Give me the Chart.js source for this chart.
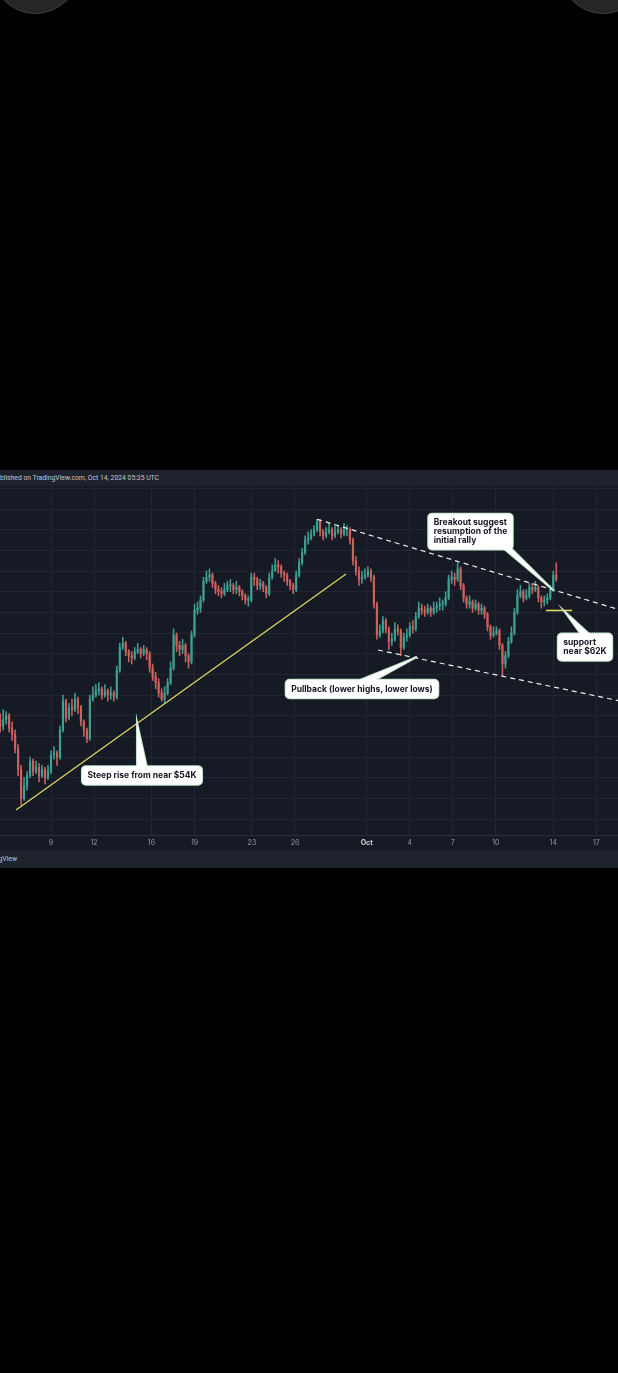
<!DOCTYPE html>
<html>
<head>
<meta charset="utf-8">
<script src="https://cdn.jsdelivr.net/npm/chart.js@4.4.1/dist/chart.umd.min.js"></script>
<style>
  html, body { margin: 0; padding: 0; background: #000; width: 618px; height: 1373px; overflow: hidden; }
  .bubble { position: absolute; width: 89px; height: 89px; border-radius: 50%; background: #262626; border: 1px solid #3b3b3b; box-sizing: border-box; }
  #panel { position: absolute; left: 0; top: 470px; width: 618px; height: 398px; background: #161a25; overflow: hidden; }
  #head { position: absolute; left: 0; top: 0; width: 618px; height: 16px; background: #1e222d; }
  #head span, #foot span { position: absolute; white-space: nowrap; font: 6.8px Roboto, sans-serif; color: #c3c6ce; }
  #head span { right: 459px; top: 4px; }
  #foot { position: absolute; left: 0; top: 380px; width: 618px; height: 18px; background: #1e222d; }
  #foot span { right: 601px; top: 5px; }
  #chart { position: absolute; left: 0; top: 16px; }
</style>
</head>
<body>
<div class="bubble" style="left:-9px; top:-75px;"></div>
<div class="bubble" style="left:559px; top:-75px;"></div>
<div id="panel">
  <div id="head"><span>Published on TradingView.com, Oct 14, 2024 05:35 UTC</span></div>
  <canvas id="chart" width="618" height="364" style="width:618px;height:364px;"></canvas>
  <div id="foot"><span>TradingView</span></div>
</div>
<script>
// BTC 5h candles, prices in $K, time in days since Sep 1
const startDay = 4 + 11 / 24;
const stepDays = 5 / 24;
const firstOpen = 56.8;

const closes = [
  56.5, 56.8, 57.0, 56.4, 56.1, 55.4, 54.4, 53.0, 53.6, 54.1,
  54.8, 54.3, 54.5, 54.1, 54.4, 54.0, 54.3, 55.1, 55.2, 55.0,
  56.3, 57.7, 56.9, 57.4, 57.3, 57.8, 57.4, 56.7, 56.3, 55.9,
  57.8, 58.0, 58.2, 58.3, 58.0, 58.2, 58.0, 58.1, 57.9, 59.2,
  60.3, 60.5, 60.1, 59.9, 59.8, 60.1, 60.2, 60.0, 60.2, 60.0,
  59.3, 58.9, 58.6, 58.1, 57.8, 58.1, 58.6, 59.3, 60.9, 60.4,
  60.2, 60.4, 59.9, 59.6, 60.9, 62.1, 62.2, 62.6, 63.5, 63.7,
  63.8, 63.4, 63.1, 63.0, 62.9, 63.1, 63.3, 63.3, 63.1, 63.2,
  63.0, 62.8, 62.6, 62.6, 63.7, 63.6, 63.3, 63.4, 63.2, 62.9,
  63.7, 64.0, 64.3, 64.2, 63.9, 63.8, 63.5, 63.3, 63.1, 63.8,
  64.4, 64.9, 65.5, 65.6, 65.8, 66.0, 66.4, 65.9, 65.7, 65.9,
  66.0, 65.7, 65.9, 66.0, 65.8, 66.0, 66.0, 65.5, 64.5, 64.0,
  63.6, 63.7, 63.8, 64.0, 63.7, 62.4, 60.9, 61.1, 61.6, 61.2,
  60.6, 60.7, 61.2, 61.1, 60.3, 60.8, 60.9, 61.3, 61.2, 61.8,
  62.2, 62.1, 62.0, 62.2, 62.0, 62.2, 62.3, 62.4, 62.4, 62.7,
  63.6, 63.7, 63.6, 64.1, 63.3, 62.7, 62.4, 62.5, 62.2, 62.4,
  62.1, 62.2, 61.9, 61.3, 60.9, 61.0, 61.1, 60.4, 59.5, 59.9,
  60.6, 61.0, 62.0, 62.8, 63.0, 62.7, 62.8, 63.2, 63.1, 63.2,
  62.7, 62.5, 62.6, 62.7, 63.1, 63.8, 63.6
];
const highs = [
  57.1, 57.3, 57.2, 57.1, 56.7, 56.3, 55.6, 54.6, 54.0, 54.3,
  55.0, 54.9, 54.8, 54.7, 54.6, 54.5, 54.6, 55.3, 55.5, 55.3,
  56.5, 58.0, 57.8, 57.6, 57.8, 58.1, 57.9, 57.5, 56.8, 56.4,
  58.0, 58.4, 58.5, 58.6, 58.4, 58.5, 58.3, 58.4, 58.2, 59.4,
  60.5, 60.8, 60.6, 60.2, 60.1, 60.3, 60.5, 60.3, 60.4, 60.3,
  60.1, 59.5, 59.1, 58.8, 58.3, 58.4, 58.8, 59.6, 61.2, 61.0,
  60.6, 60.7, 60.5, 60.0, 61.1, 62.4, 62.5, 62.8, 63.7, 64.0,
  64.1, 63.9, 63.5, 63.3, 63.2, 63.4, 63.5, 63.6, 63.4, 63.5,
  63.3, 63.1, 62.9, 62.8, 63.9, 63.9, 63.7, 63.6, 63.5, 63.3,
  63.9, 64.3, 64.6, 64.5, 64.3, 64.0, 63.9, 63.6, 63.4, 64.0,
  64.6, 65.1, 65.7, 65.9, 66.0, 66.2, 66.5, 66.5, 66.0, 66.1,
  66.3, 66.1, 66.2, 66.2, 66.1, 66.3, 66.2, 66.1, 65.6, 64.7,
  64.2, 64.0, 64.1, 64.2, 64.1, 63.8, 62.5, 61.4, 61.8, 61.7,
  61.3, 61.0, 61.5, 61.4, 61.2, 61.0, 61.2, 61.5, 61.6, 62.0,
  62.5, 62.4, 62.3, 62.4, 62.3, 62.5, 62.5, 62.7, 62.6, 63.0,
  63.8, 64.0, 63.9, 64.4, 64.2, 63.4, 62.8, 62.8, 62.6, 62.6,
  62.5, 62.4, 62.3, 62.0, 61.4, 61.3, 61.3, 61.2, 60.5, 60.1,
  60.8, 61.3, 62.2, 63.1, 63.3, 63.1, 63.1, 63.4, 63.4, 63.5,
  63.3, 62.8, 62.8, 62.9, 63.3, 64.0, 64.4
];
const lows = [
  56.2, 56.3, 56.6, 56.2, 55.8, 55.2, 54.1, 52.7, 52.9, 53.4,
  54.0, 54.1, 54.2, 53.8, 54.0, 53.7, 53.9, 54.2, 54.9, 54.6,
  54.9, 56.2, 56.7, 56.8, 57.0, 57.2, 57.1, 56.5, 56.0, 55.7,
  55.8, 57.7, 57.9, 58.0, 57.8, 57.9, 57.7, 57.8, 57.7, 57.8,
  59.1, 60.2, 59.9, 59.6, 59.5, 59.7, 60.0, 59.8, 59.9, 59.7,
  59.1, 58.7, 58.3, 57.9, 57.7, 57.6, 58.0, 58.5, 59.2, 60.1,
  59.9, 60.0, 59.6, 59.3, 59.5, 60.8, 61.9, 62.0, 62.5, 63.4,
  63.5, 63.2, 62.9, 62.8, 62.7, 62.8, 63.0, 63.0, 62.9, 62.9,
  62.8, 62.6, 62.4, 62.3, 62.5, 63.3, 63.1, 63.1, 63.0, 62.7,
  62.8, 63.6, 64.0, 63.9, 63.7, 63.5, 63.3, 63.1, 62.9, 63.0,
  63.7, 64.3, 64.8, 65.3, 65.5, 65.7, 65.9, 65.7, 65.5, 65.6,
  65.8, 65.5, 65.6, 65.8, 65.6, 65.7, 65.7, 65.3, 64.3, 63.8,
  63.3, 63.4, 63.6, 63.7, 63.5, 62.2, 60.7, 60.8, 61.0, 61.0,
  60.2, 60.4, 60.6, 60.9, 59.9, 60.2, 60.6, 60.8, 61.0, 61.1,
  61.7, 61.9, 61.8, 61.9, 61.8, 61.9, 62.0, 62.1, 62.1, 62.3,
  62.6, 63.4, 63.3, 63.5, 63.1, 62.5, 62.2, 62.2, 62.0, 62.1,
  61.9, 61.9, 61.7, 61.1, 60.7, 60.8, 60.9, 60.2, 58.9, 59.3,
  59.8, 60.5, 60.9, 61.9, 62.7, 62.5, 62.6, 62.7, 62.9, 63.0,
  62.5, 62.2, 62.3, 62.4, 62.6, 63.0, 63.5
];

const tickDays = [8, 11, 15, 18, 22, 25, 30, 33, 36, 39, 43, 46];
const tickLabels = ['9', '12', '16', '19', '23', '26', 'Oct', '4', '7', '10', '14', '17'];
const priceGrid = [52, 53, 54, 55, 56, 57, 58, 59, 60, 61, 62, 63, 64, 65, 66, 67, 68];
const viewDays = [4.446, 47.51];
const viewPrices = [51.228, 68.113];

// drawn lines: [day, price] endpoints
const riseLine = [[5.56, 52.44], [28.56, 63.86]];
const upperChannel = [[26.54, 66.50], [47.6, 62.13]];
const lowerChannel = [[30.79, 60.18], [47.6, 57.72]];
const supportLine = [[42.49, 62.09], [44.31, 62.09]];

const callouts = [
  { lines: ['Breakout suggest', 'resumption of the', 'initial rally'], at: [37.23, 65.91], tip: [42.98, 63.08], side: 'bottom', base: [33, 41] },
  { lines: ['support', 'near $62K'], at: [45.21, 60.32], tip: [43.75, 62.07], side: 'top', base: [-4, 5] },
  { lines: ['Pullback (lower highs, lower lows)'], at: [29.67, 58.29], tip: [33.5, 59.84], side: 'top', base: [-4, 12] },
  { lines: ['Steep rise from near $54K'], at: [14.34, 54.11], tip: [13.99, 56.70], side: 'top', base: [-5, 5] }
];

const upColor = '#3f9f92';
const downColor = '#cd625d';

const opens = closes.map((c, i) => (i === 0 ? firstOpen : closes[i - 1]));
const candleDays = closes.map((c, i) => startDay + i * stepDays);
const candleColors = closes.map((c, i) => (c >= opens[i] ? upColor : downColor));

const overlays = {
  id: 'overlays',
  afterDatasetsDraw(chart) {
    const { ctx, chartArea: area, scales: { x, y } } = chart;
    const px = p => [x.getPixelForValue(p[0]), y.getPixelForValue(p[1])];

    ctx.save();
    ctx.beginPath();
    ctx.rect(area.left, area.top, area.right - area.left, area.bottom - area.top);
    ctx.clip();

    const line = (pts, color, width, dash) => {
      const a = px(pts[0]), b = px(pts[1]);
      ctx.beginPath();
      ctx.setLineDash(dash);
      ctx.strokeStyle = color;
      ctx.lineWidth = width;
      ctx.moveTo(a[0], a[1]);
      ctx.lineTo(b[0], b[1]);
      ctx.stroke();
    };
    line(riseLine, '#e2da5c', 1.2, []);
    line(upperChannel, '#eeeeee', 1.2, [5, 4]);
    line(lowerChannel, '#eeeeee', 1.2, [5, 4]);
    line(supportLine, '#e2da5c', 1.6, []);
    ctx.setLineDash([]);

    ctx.font = 'bold 8.5px Inter';
    const lineH = 8.6, padX = 5.5, padY = 5;
    callouts.forEach(c => {
      const w = Math.max(...c.lines.map(t => ctx.measureText(t).width)) + padX * 2;
      const h = c.lines.length * lineH + padY * 2;
      const [cx, cy] = px(c.at);
      const [tx, ty] = px(c.tip);
      const left = cx - w / 2, top = cy - h / 2;
      const edge = c.side === 'top' ? top + 1 : top + h - 1;

      const pointer = () => {
        ctx.beginPath();
        ctx.moveTo(cx + c.base[0], edge);
        ctx.lineTo(tx, ty);
        ctx.lineTo(cx + c.base[1], edge);
        ctx.closePath();
      };
      const box = () => {
        ctx.beginPath();
        ctx.roundRect(left, top, w, h, 4);
      };
      ctx.strokeStyle = '#bfe3c8';
      ctx.lineWidth = 2;
      pointer(); ctx.stroke();
      box(); ctx.stroke();
      ctx.fillStyle = '#ffffff';
      pointer(); ctx.fill();
      box(); ctx.fill();

      ctx.fillStyle = '#131722';
      ctx.textBaseline = 'middle';
      ctx.textAlign = 'left';
      c.lines.forEach((t, i) => {
        ctx.fillText(t, left + padX, top + padY + lineH * (i + 0.5));
      });
    });
    ctx.restore();
  }
};

Chart.defaults.font.family = 'Inter';

new Chart(document.getElementById('chart'), {
  type: 'bar',
  data: {
    datasets: [
      {
        label: 'wick',
        data: candleDays.map((d, i) => ({ x: d, y: [lows[i], highs[i]] })),
        backgroundColor: candleColors,
        barThickness: 0.9,
        grouped: false,
        order: 2
      },
      {
        label: 'body',
        data: candleDays.map((d, i) => ({ x: d, y: [opens[i], closes[i]] })),
        backgroundColor: candleColors,
        barThickness: 1.5,
        minBarLength: 1,
        grouped: false,
        order: 1
      }
    ]
  },
  options: {
    responsive: false,
    animation: false,
    events: [],
    layout: { padding: 0 },
    plugins: { legend: { display: false }, tooltip: { enabled: false } },
    scales: {
      x: {
        type: 'linear',
        min: viewDays[0],
        max: viewDays[1],
        offset: false,
        afterBuildTicks: s => { s.ticks = tickDays.map(v => ({ value: v })); },
        afterFit: s => { s.height = 15; },
        grid: { color: '#222632', drawTicks: false, offset: false },
        border: { color: '#2a2e39' },
        ticks: {
          padding: 4,
          maxRotation: 0,
          autoSkip: false,
          callback: (v, i) => tickLabels[i],
          color: ctx => (tickLabels[ctx.index] === 'Oct' ? '#d1d4dc' : '#9598a1'),
          font: ctx => ({ family: 'Inter', size: 7, weight: tickLabels[ctx.index] === 'Oct' ? 'bold' : 'normal' })
        }
      },
      y: {
        min: viewPrices[0],
        max: viewPrices[1],
        afterBuildTicks: s => { s.ticks = priceGrid.map(v => ({ value: v })); },
        afterFit: s => { s.width = 0; },
        grid: { color: '#222632', drawTicks: false },
        border: { display: false },
        ticks: { display: false }
      }
    }
  },
  plugins: [overlays]
});
</script>
</body>
</html>
